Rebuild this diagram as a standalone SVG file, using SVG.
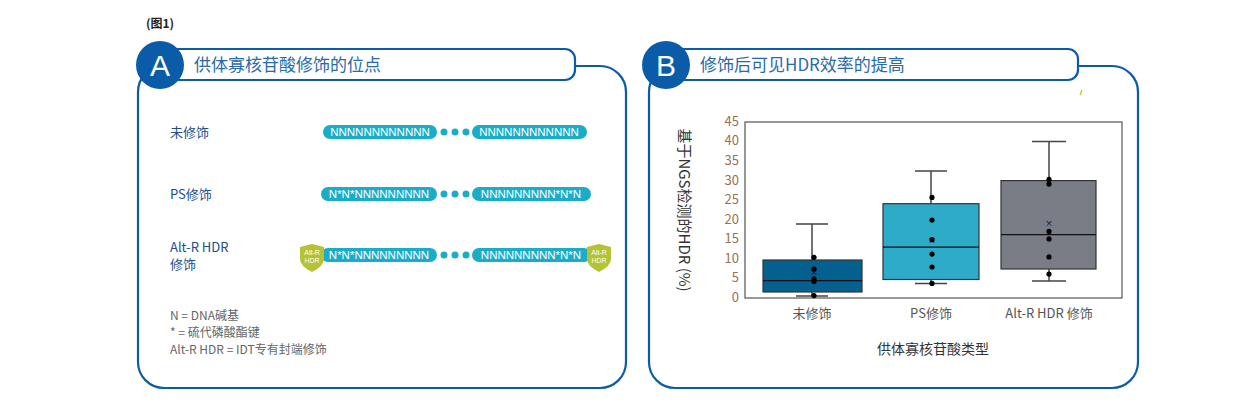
<svg xmlns="http://www.w3.org/2000/svg" width="1258" height="404" viewBox="0 0 1258 404">
<style>
text{font-family:"Noto Sans CJK SC","Liberation Sans",sans-serif}
.frame{fill:#fff;stroke:#0a5ca8;stroke-width:2.2}
.pill{fill:#fff;stroke:#0a5ca8;stroke-width:2.2}
.circ{fill:#0a5ca8}
.ct{fill:#fff;font-size:30px;font-family:"Liberation Sans",sans-serif}
.ht{fill:#2a6aa8;font-size:17px}
.lab{fill:#1a4f8a;font-size:13px}
.leg{fill:#666;font-size:12px}
.sp{fill:#1badc8}
.st{fill:#fff;font-size:11.5px;font-family:"Liberation Sans",sans-serif}
.ax{fill:#555;font-size:13px}
.tk{fill:#9a7050;font-size:13px;font-family:"Liberation Sans",sans-serif;text-anchor:end}
.wh{stroke:#444;stroke-width:1.5;fill:none}
.pt{fill:#000}
.sh{fill:#b4c234}
.sht{fill:#fff;font-size:7px;font-family:"Liberation Sans",sans-serif;text-anchor:middle}
</style>
<text x="146" y="28" font-size="12" font-weight="bold" fill="#222">(图1)</text>
<g id="panelA">
<rect class="frame" x="138" y="66" width="488" height="322" rx="26"/>
<rect class="pill" x="150" y="49" width="425" height="31" rx="10"/>
<circle class="circ" cx="160" cy="65" r="24"/>
<text class="ct" x="160" y="76" text-anchor="middle">A</text>
<text class="ht" x="194" y="71">供体寡核苷酸修饰的位点</text>
</g>
<g id="labels">
<text class="lab" x="170" y="137">未修饰</text>
<text class="lab" x="170" y="199">PS修饰</text>
<text class="lab" x="170" y="252">Alt-R HDR</text>
<text class="lab" x="170" y="269">修饰</text>
<text class="leg" x="170" y="320">N = DNA碱基</text>
<text class="leg" x="170" y="337">* = 硫代磷酸酯键</text>
<text class="leg" x="170" y="354">Alt-R HDR = IDT专有封端修饰</text>
</g>
<g id="strand1">
<rect class="sp" x="323" y="125" width="114" height="14" rx="7"/>
<text class="st" x="380" y="136" text-anchor="middle">NNNNNNNNNNNN</text>
<circle class="sp" cx="444" cy="132" r="3.5"/><circle class="sp" cx="455" cy="132" r="3.5"/><circle class="sp" cx="466" cy="132" r="3.5"/>
<rect class="sp" x="472" y="125" width="115" height="14" rx="7"/>
<text class="st" x="529" y="136" text-anchor="middle">NNNNNNNNNNNN</text>
</g>
<g id="strand2">
<rect class="sp" x="321" y="187" width="116" height="14" rx="7"/>
<text class="st" x="379" y="198" text-anchor="middle">N*N*NNNNNNNNN</text>
<circle class="sp" cx="444" cy="194" r="3.5"/><circle class="sp" cx="455" cy="194" r="3.5"/><circle class="sp" cx="466" cy="194" r="3.5"/>
<rect class="sp" x="472" y="187" width="119" height="14" rx="7"/>
<text class="st" x="531" y="198" text-anchor="middle">NNNNNNNNN*N*N</text>
</g>
<g id="strand3">
<rect class="sp" x="321" y="248" width="116" height="14" rx="7"/>
<text class="st" x="379" y="259" text-anchor="middle">N*N*NNNNNNNNN</text>
<circle class="sp" cx="444" cy="255" r="3.5"/><circle class="sp" cx="455" cy="255" r="3.5"/><circle class="sp" cx="466" cy="255" r="3.5"/>
<rect class="sp" x="472" y="248" width="119" height="14" rx="7"/>
<text class="st" x="531" y="259" text-anchor="middle">NNNNNNNNN*N*N</text>
<path class="sh" d="M300 247 L312 244 L324 247 L324 259 Q324 266 312 272 Q300 266 300 259 Z"/>
<text class="sht" x="312" y="255">Alt-R</text><text class="sht" x="312" y="263">HDR</text>
<path class="sh" d="M587 247 L599 244 L611 247 L611 259 Q611 266 599 272 Q587 266 587 259 Z"/>
<text class="sht" x="599" y="255">Alt-R</text><text class="sht" x="599" y="263">HDR</text>
</g>
<g id="panelB">
<rect class="frame" x="649" y="66" width="489" height="322" rx="26"/>
<rect class="pill" x="661" y="49" width="417" height="31" rx="10"/>
<circle class="circ" cx="666" cy="65" r="24"/>
<text class="ct" x="666" y="76" text-anchor="middle">B</text>
<text class="ht" x="700" y="71">修饰后可见HDR效率的提高</text>
<path d="M1080 95 L1082 90" stroke="#b4c234" stroke-width="1.2"/>
</g>
<g id="chart">
<rect x="745" y="122" width="377" height="176" fill="none" stroke="#555" stroke-width="1.2"/>
<g class="tk">
<text x="739" y="302">0</text><text x="739" y="282">5</text><text x="739" y="263">10</text><text x="739" y="243">15</text><text x="739" y="224">20</text><text x="739" y="204">25</text><text x="739" y="185">30</text><text x="739" y="165">35</text><text x="739" y="145">40</text><text x="739" y="126">45</text>
</g>
<path class="wh" d="M812 224 V260 M796 224 H828 M812 292 V296 M796 296 H828"/>
<rect x="763" y="260" width="99" height="32" fill="#04618f" stroke="#333" stroke-width="1.2"/>
<line x1="763" y1="280.7" x2="862" y2="280.7" stroke="#111" stroke-width="1.2"/>
<g class="pt"><circle cx="814" cy="257.3" r="2.6"/><circle cx="814" cy="269" r="2.6"/><circle cx="814" cy="278.8" r="2.6"/><circle cx="814" cy="281.5" r="2.6"/><circle cx="814" cy="295.6" r="2.6"/></g>
<text x="814" y="275" font-size="8" text-anchor="middle" fill="#000">×</text>
<path class="wh" d="M931 170.9 V203.7 M915 170.9 H947 M931 279.5 V283.4 M915 283.4 H947"/>
<rect x="883" y="203.7" width="96" height="75.8" fill="#2eabc8" stroke="#333" stroke-width="1.2"/>
<line x1="883" y1="247.1" x2="979" y2="247.1" stroke="#111" stroke-width="1.2"/>
<g class="pt"><circle cx="932" cy="197.4" r="2.6"/><circle cx="932" cy="220.1" r="2.6"/><circle cx="932" cy="239.7" r="2.6"/><circle cx="932" cy="254.1" r="2.6"/><circle cx="932" cy="267" r="2.6"/><circle cx="932" cy="283.4" r="2.6"/></g>
<text x="932" y="243" font-size="8" text-anchor="middle" fill="#000">×</text>
<path class="wh" d="M1049 141.5 V180.6 M1032 141.5 H1066 M1049 269 V281.1 M1032 281.1 H1066"/>
<rect x="1001" y="180.6" width="95" height="88.4" fill="#7a7d85" stroke="#333" stroke-width="1.2"/>
<line x1="1001" y1="234.6" x2="1096" y2="234.6" stroke="#111" stroke-width="1.2"/>
<g class="pt"><circle cx="1049" cy="179.4" r="2.6"/><circle cx="1049" cy="184.1" r="2.6"/><circle cx="1049" cy="231.4" r="2.6"/><circle cx="1049" cy="238.9" r="2.6"/><circle cx="1049" cy="256.9" r="2.6"/><circle cx="1049" cy="274.1" r="2.6"/></g>
<text x="1049" y="226" font-size="8" text-anchor="middle" fill="#000">×</text>
<text class="ax" x="812" y="318" text-anchor="middle">未修饰</text>
<text class="ax" x="931" y="318" text-anchor="middle">PS修饰</text>
<text class="ax" x="1049" y="318" text-anchor="middle">Alt-R HDR 修饰</text>
<text x="933" y="354" font-size="14" fill="#333" text-anchor="middle">供体寡核苷酸类型</text>
<text x="0" y="0" font-size="15" fill="#333" text-anchor="middle" transform="translate(679,210) rotate(90)">基于NGS检测的HDR (%)</text>
</g>
</svg>
